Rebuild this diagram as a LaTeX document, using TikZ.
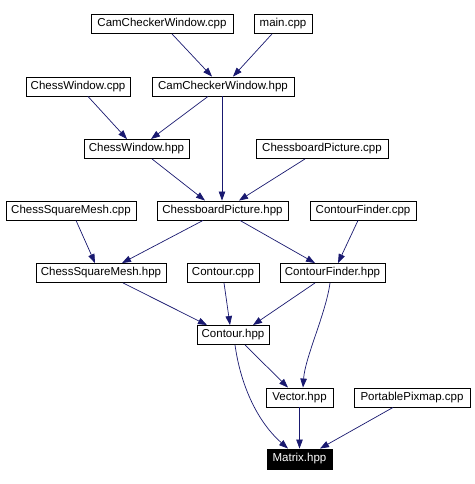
\documentclass[tikz,border=0pt]{standalone}
\usepackage{fontspec}
\setmainfont{Liberation Sans}
\usetikzlibrary{arrows.meta}
\definecolor{edgeblue}{RGB}{25,25,112}
\begin{document}
\begin{tikzpicture}[x=1pt,y=-1pt,
  filebox/.style={draw=black,line width=0.9pt,fill=white,inner xsep=0pt,inner ysep=0pt,
    minimum height=19pt,font=\fontsize{11.5}{13}\selectfont,text=black},
  rootbox/.style={filebox,fill=black,text=white},
  dep/.style={draw=edgeblue,line width=0.7pt,-{Triangle[length=9pt,width=6.5pt]},color=edgeblue}]
\useasboundingbox (0,0) rectangle (474,484);
\fill[white] (0,0) rectangle (474,484);
\node[filebox,minimum width=142pt] (ccwcpp) at (162,24) {CamCheckerWindow.cpp};
\node[filebox,minimum width=58pt] (maincpp) at (283,24) {main.cpp};
\node[filebox,minimum width=104pt] (cwcpp) at (78,86.5) {ChessWindow.cpp};
\node[filebox,minimum width=142pt] (ccwhpp) at (223,86.5) {CamCheckerWindow.hpp};
\node[filebox,minimum width=105pt] (cwhpp) at (136.5,149) {ChessWindow.hpp};
\node[filebox,minimum width=132pt] (cbpcpp) at (322,149) {ChessboardPicture.cpp};
\node[filebox,minimum width=130pt] (csmcpp) at (71,210.5) {ChessSquareMesh.cpp};
\node[filebox,minimum width=131pt] (cbphpp) at (222.5,210.5) {ChessboardPicture.hpp};
\node[filebox,minimum width=106pt] (cfcpp) at (363,210.5) {ContourFinder.cpp};
\node[filebox,minimum width=130pt] (csmhpp) at (101,273) {ChessSquareMesh.hpp};
\node[filebox,minimum width=72pt] (ccpp) at (223,273) {Contour.cpp};
\node[filebox,minimum width=105pt] (cfhpp) at (332.5,273) {ContourFinder.hpp};
\node[filebox,minimum width=72pt] (chpp) at (233,335) {Contour.hpp};
\node[filebox,minimum width=67pt] (vhpp) at (299.5,397.5) {Vector.hpp};
\node[filebox,minimum width=116pt] (ppcpp) at (412,397.5) {PortablePixmap.cpp};
\node[rootbox,minimum width=65pt,minimum height=20pt] (mhpp) at (299.5,459) {Matrix.hpp};

\draw[dep] ([xshift=10pt]ccwcpp.south) -- ([xshift=-11pt]ccwhpp.north);
\draw[dep] ([xshift=-11pt]maincpp.south) -- ([xshift=10pt]ccwhpp.north);
\draw[dep] ([xshift=10pt]cwcpp.south) -- ([xshift=-9.5pt]cwhpp.north);
\draw[dep] ([xshift=-15pt]ccwhpp.south) -- ([xshift=14.5pt]cwhpp.north);
\draw[dep] ([xshift=-1pt]ccwhpp.south) -- ([xshift=-0.5pt]cbphpp.north);
\draw[dep] ([xshift=15.5pt]cwhpp.south) -- ([xshift=-17.5pt]cbphpp.north);
\draw[dep] ([xshift=-17pt]cbpcpp.south) -- ([xshift=16.5pt]cbphpp.north);
\draw[dep] ([xshift=5pt]csmcpp.south) -- ([xshift=-6pt]csmhpp.north);
\draw[dep] ([xshift=-19.5pt]cbphpp.south) -- ([xshift=21pt]csmhpp.north);
\draw[dep] ([xshift=17.5pt]cbphpp.south) -- ([xshift=-17.5pt]cfhpp.north);
\draw[dep] ([xshift=-5pt]cfcpp.south) -- ([xshift=5.5pt]cfhpp.north);
\draw[dep] ([xshift=22pt]csmhpp.south) -- ([xshift=-26pt]chpp.north);
\draw[dep] ([xshift=1pt]ccpp.south) -- ([xshift=-3pt]chpp.north);
\draw[dep] ([xshift=-17.5pt]cfhpp.south) -- ([xshift=20pt]chpp.north);
\draw[dep] ([xshift=-2.5pt]cfhpp.south) .. controls +(-4,30) and +(2,-30) .. ([xshift=3.5pt]vhpp.north);
\draw[dep] ([xshift=12pt]chpp.south) -- ([xshift=-11.5pt]vhpp.north);
\draw[dep] ([xshift=2pt]chpp.south) .. controls +(5,36) and +(-33,-29) .. ([xshift=-11.5pt]mhpp.north);
\draw[dep] (vhpp.south) -- (mhpp.north);
\draw[dep] ([xshift=-19pt]ppcpp.south) -- ([xshift=20.5pt]mhpp.north);
\end{tikzpicture}
\end{document}
